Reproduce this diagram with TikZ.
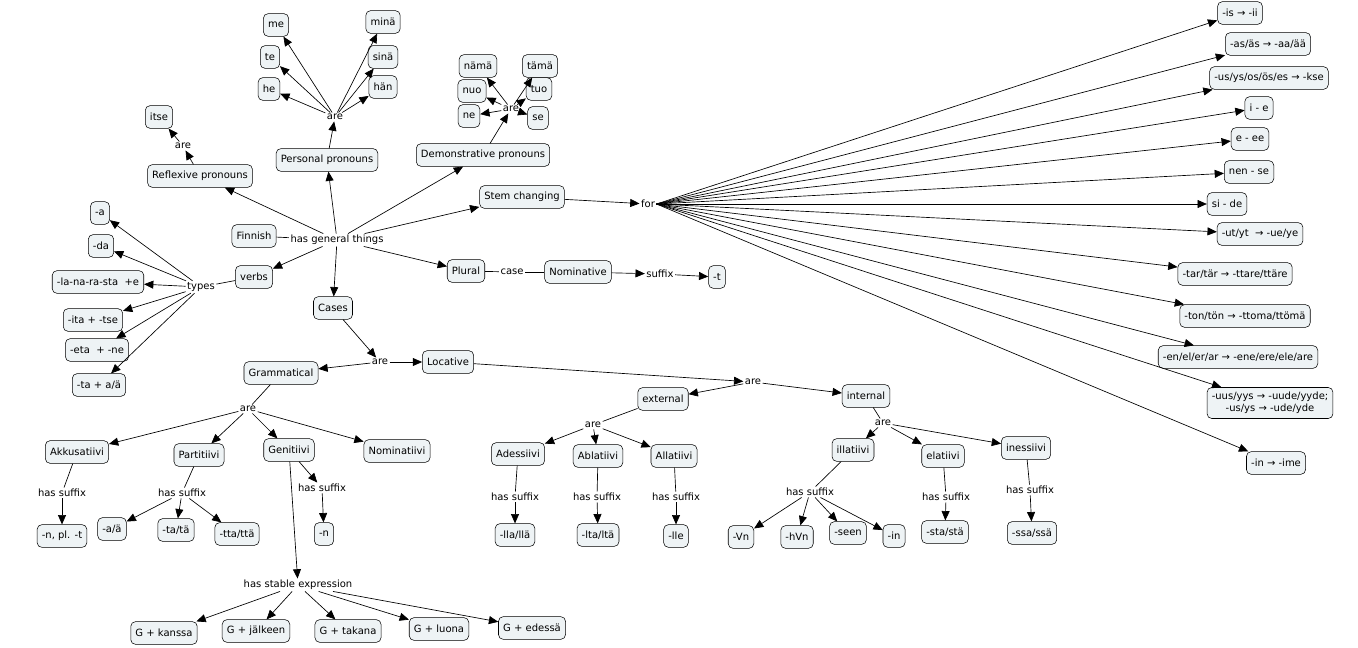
\documentclass[tikz,border=0pt]{standalone}
\usepackage{fontspec}
\setmainfont{DejaVu Sans}
\usetikzlibrary{arrows.meta}
\definecolor{boxfill}{HTML}{EEF3F5}
\tikzset{
  cpt/.style={draw, rounded corners=3.5pt, fill=boxfill, inner sep=3.5pt, minimum height=17pt, font=\fontsize{7.5}{9}\selectfont, align=center},
  lnk/.style={inner sep=1pt, font=\fontsize{7.5}{9}\selectfont},
  to/.style={-{Triangle[length=7pt,width=6pt]}, line width=0.5pt},
  ln/.style={line width=0.5pt}
}
\begin{document}
\begin{tikzpicture}[x=0.75pt,y=0.75pt,yscale=-1,xscale=1]
\useasboundingbox (0,0) rectangle (1358,648);

% pronouns
\node[cpt] (me) at (276,25) {me};
\node[cpt] (te) at (270,57) {te};
\node[cpt] (he) at (269,89) {he};
\node[cpt] (mina) at (383,22) {minä};
\node[cpt] (sina) at (383,57) {sinä};
\node[cpt] (han) at (383,87) {hän};
\node[lnk] (arePP) at (335,117) {are};
\node[cpt] (itse) at (159,117) {itse};
\node[lnk] (areRP) at (183,146) {are};
\node[cpt] (pers) at (327,160) {Personal pronouns};
\node[cpt] (refl) at (200,176) {Reflexive pronouns};
\node[cpt] (nama) at (478,66) {nämä};
\node[cpt] (tama) at (540,66) {tämä};
\node[cpt] (nuo) at (472,91) {nuo};
\node[cpt] (tuo) at (539,89) {tuo};
\node[cpt] (ne) at (469,116) {ne};
\node[cpt] (se) at (538,118) {se};
\node[lnk] (areDP) at (511,109) {are};
\node[cpt] (demo) at (483,155) {Demonstrative pronouns};

% center
\node[cpt] (fin) at (254,236) {Finnish};
\node[lnk] (hgt) at (337,240) {has general things};
\node[cpt] (stem) at (522,197) {Stem changing};
\node[lnk] (for) at (648,204) {for};
\node[cpt] (verbs) at (254,277) {verbs};
\node[lnk] (types) at (201,287) {types};
\node[cpt] (va) at (100,213) {-a};
\node[cpt] (vda) at (101,246) {-da};
\node[cpt] (vla) at (98,282) {-la-na-ra-sta \ +e};
\node[cpt] (vita) at (93,320) {-ita + -tse};
\node[cpt] (veta) at (97,350) {-eta \ + -ne};
\node[cpt] (vta) at (99,385) {-ta + a/ä};
\node[cpt] (plur) at (466,271) {Plural};
\node[lnk] (case) at (512,272) {case};
\node[cpt] (nom) at (578,272) {Nominative};
\node[lnk] (suf) at (660,274) {suffix};
\node[cpt] (t) at (717,277) {-t};
\node[cpt] (cases) at (333,308) {Cases};
\node[lnk] (areC) at (380,362) {are};
\node[cpt] (gram) at (281,373) {Grammatical};
\node[cpt] (loc) at (448,362) {Locative};

% grammatical
\node[lnk] (areG) at (248,409) {are};
\node[cpt] (akk) at (77,452) {Akkusatiivi};
\node[cpt] (part) at (199,455) {Partitiivi};
\node[cpt] (gen) at (289,450) {Genitiivi};
\node[cpt] (nomi) at (397,451) {Nominatiivi};
\node[lnk] (hsA) at (62,493) {has suffix};
\node[lnk] (hsP) at (182,493) {has suffix};
\node[lnk] (hsG) at (322,488) {has suffix};
\node[cpt] (npl) at (62,536) {-n, pl. -t};
\node[cpt] (aa) at (112,529) {-a/ä};
\node[cpt] (tata) at (176,530) {-ta/tä};
\node[cpt] (tta) at (237,534) {-tta/ttä};
\node[cpt] (n) at (324,534) {-n};
\node[lnk] (hse) at (298,585) {has stable expression};
\node[cpt] (g1) at (164,633) {G + kanssa};
\node[cpt] (g2) at (256,631) {G + jälkeen};
\node[cpt] (g3) at (348,631) {G + takana};
\node[cpt] (g4) at (439,629) {G + luona};
\node[cpt] (g5) at (532,628) {G + edessä};

% locative
\node[lnk] (areL) at (753,382) {are};
\node[cpt] (ext) at (663,399) {external};
\node[cpt] (int) at (866,396) {internal};
\node[lnk] (areE) at (593,425) {are};
\node[cpt] (ade) at (518,454) {Adessiivi};
\node[cpt] (abl) at (598,456) {Ablatiivi};
\node[cpt] (all) at (674,456) {Allatiivi};
\node[lnk] (hsAd) at (515,497) {has suffix};
\node[lnk] (hsAb) at (597,497) {has suffix};
\node[lnk] (hsAl) at (676,497) {has suffix};
\node[cpt] (lla) at (515,535) {-lla/llä};
\node[cpt] (lta) at (598,535) {-lta/ltä};
\node[cpt] (lle) at (676,536) {-lle};
\node[lnk] (areI) at (883,423) {are};
\node[cpt] (ill) at (853,450) {illatiivi};
\node[cpt] (ela) at (943,456) {elatiivi};
\node[cpt] (ine) at (1026,448) {inessiivi};
\node[lnk] (hsIl) at (810,492) {has suffix};
\node[lnk] (hsEl) at (946,497) {has suffix};
\node[lnk] (hsIn) at (1030,490) {has suffix};
\node[cpt] (vn) at (741,537) {-Vn};
\node[cpt] (hvn) at (797,537) {-hVn};
\node[cpt] (seen) at (848,533) {-seen};
\node[cpt] (in) at (894,536) {-in};
\node[cpt] (sta) at (945,532) {-sta/stä};
\node[cpt] (ssa) at (1032,533) {-ssa/ssä};

% stem changes
\node[cpt] (s1) at (1240,13) {-is → -ii};
\node[cpt] (s2) at (1268,44) {-as/äs → -aa/ää};
\node[cpt] (s3) at (1269,78) {-us/ys/os/ös/es → -kse};
\node[cpt] (s4) at (1259,108) {i - e};
\node[cpt] (s5) at (1250,139) {e - ee};
\node[cpt] (s6) at (1249,172) {nen - se};
\node[cpt] (s7) at (1227,204) {si - de};
\node[cpt] (s8) at (1260,234) {-ut/yt \ → -ue/ye};
\node[cpt] (s9) at (1235,274) {-tar/tär → -ttare/ttäre};
\node[cpt] (s10) at (1245,316) {-ton/tön → -ttoma/ttömä};
\node[cpt] (s11) at (1238,357) {-en/el/er/ar → -ene/ere/ele/are};
\node[cpt] (s12) at (1270,403) {-uus/yys → -uude/yyde;\\-us/ys → -ude/yde};
\node[cpt] (s13) at (1276,463) {-in → -ime};

% connectors
\foreach \b in {me,te,he,mina,sina,han} \draw[to] (arePP) -- (\b);
\draw[to] (pers) -- (arePP);
\draw[to] (refl) -- (areRP);
\draw[to] (areRP) -- (itse);
\foreach \b in {nama,tama,nuo,tuo,ne,se} \draw[to] (areDP) -- (\b);
\draw[to] (demo) -- (areDP);
\draw[ln] (fin) -- (hgt);
\foreach \b in {refl,pers,demo,stem,plur,cases,verbs} \draw[to] (hgt) -- (\b);
\draw[to] (stem) -- (for);
\foreach \i in {1,...,13} \draw[to] (for.east) -- (s\i);
\draw[ln] (verbs) -- (types);
\foreach \b in {va,vda,vla,vita,veta,vta} \draw[to] (types) -- (\b);
\draw[ln] (plur) -- (case);
\draw[ln] (case) -- (nom);
\draw[to] (nom) -- (suf);
\draw[to] (suf) -- (t);
\draw[to] (cases) -- (areC);
\draw[to] (areC) -- (gram);
\draw[to] (areC) -- (loc);
\draw[ln] (gram) -- (areG);
\foreach \b in {akk,part,gen,nomi} \draw[to] (areG) -- (\b);
\draw[ln] (akk) -- (hsA);
\draw[to] (hsA) -- (npl);
\draw[ln] (part) -- (hsP);
\foreach \b in {aa,tata,tta} \draw[to] (hsP) -- (\b);
\draw[to] (gen) -- (hsG);
\draw[to] (hsG) -- (n);
\draw[to] (gen) -- (hse);
\foreach \b in {g1,g2,g3,g4,g5} \draw[to] (hse) -- (\b);
\draw[to] (loc) -- (areL);
\draw[to] (areL) -- (ext);
\draw[to] (areL) -- (int);
\draw[ln] (ext) -- (areE);
\foreach \b in {ade,abl,all} \draw[to] (areE) -- (\b);
\draw[ln] (ade) -- (hsAd);
\draw[to] (hsAd) -- (lla);
\draw[ln] (abl) -- (hsAb);
\draw[to] (hsAb) -- (lta);
\draw[ln] (all) -- (hsAl);
\draw[to] (hsAl) -- (lle);
\draw[ln] (int) -- (areI);
\foreach \b in {ill,ela,ine} \draw[to] (areI) -- (\b);
\draw[ln] (ill) -- (hsIl);
\foreach \b in {vn,hvn,seen,in} \draw[to] (hsIl) -- (\b);
\draw[ln] (ela) -- (hsEl);
\draw[to] (hsEl) -- (sta);
\draw[ln] (ine) -- (hsIn);
\draw[to] (hsIn) -- (ssa);
\end{tikzpicture}
\end{document}
